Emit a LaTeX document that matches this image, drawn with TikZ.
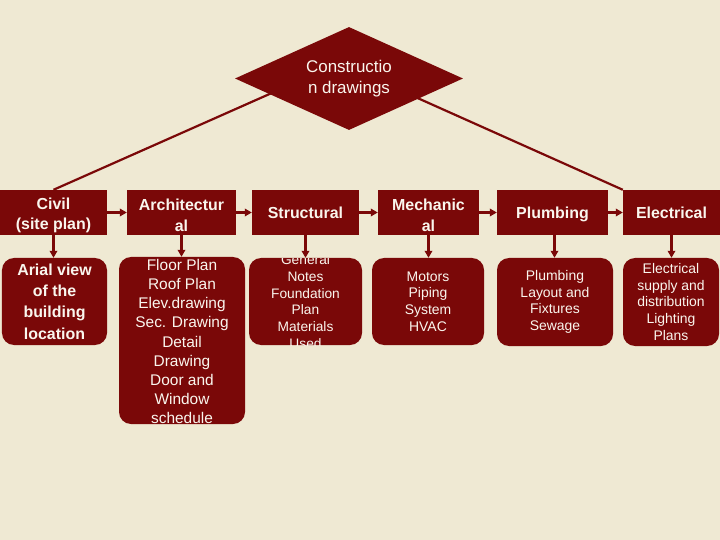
\documentclass[tikz,border=0pt]{standalone}
\usepackage{fontspec}
\setmainfont{Liberation Sans}
\usetikzlibrary{shapes.geometric,arrows.meta}
\definecolor{dred}{RGB}{122,8,8}
\definecolor{bgc}{RGB}{239,233,211}
\definecolor{bgo}{RGB}{220,209,178}
\definecolor{txt}{RGB}{250,246,238}
\pgfdeclareradialshading{vig}{\pgfpoint{0bp}{0bp}}{color(0bp)=(bgc); color(40bp)=(bgc); color(71bp)=(bgo)}
\begin{document}
\begin{tikzpicture}[x=1bp,y=-1bp,
  topbox/.style 2 args={fill=dred,minimum height=45bp,inner sep=0pt,
    path picture={\node[text=txt,align=center,inner sep=0pt,font=\fontsize{16}{20.5}\selectfont\bfseries]
      at ([yshift=#1]path picture bounding box.center) {#2};}},
  lowbox/.style={fill=dred,rounded corners=12bp,minimum height=87bp,inner sep=0pt},
  conn/.style={draw=dred,line width=2.2bp},
  arr/.style={conn,-{Triangle[length=7bp,width=7.5bp]}},
  ltxt/.style={text=txt,align=center,inner sep=0pt},
  smallf/.style={font=\fontsize{14}{16.7}\selectfont}
]
\useasboundingbox (0,0) rectangle (720,540);
\shade[shading=vig] (0,0) rectangle (720,540);

% top row
\node[topbox={-3bp}{Civil\\(site plan)},minimum width=107bp] (civil)  at (53.5,212.5) {};
\node[topbox={-3bp}{Architectur\\al},minimum width=109bp] (arch)   at (181.5,212.5) {};
\node[topbox={-0.5bp}{Structural},minimum width=107bp] (struct) at (305.5,212.5) {};
\node[topbox={-3bp}{Mechanic\\al},minimum width=101bp] (mech)   at (428.5,212.5) {};
\node[topbox={-1.5bp}{Plumbing},minimum width=111bp] (plumb)  at (552.5,212.5) {};
\node[topbox={-0.5bp}{Electrical},minimum width=97bp]  (elec)   at (671.5,212.5) {};

% lower row
\node[lowbox,minimum width=105bp,path picture={\node[ltxt,font=\fontsize{16}{21.5}\selectfont\bfseries] at (path picture bounding box.center) {Arial view\\of the\\building\\location};}] (civilL) at (54.5,301.5) {};
\node[lowbox,minimum width=126bp,minimum height=167bp,path picture={\node[ltxt,font=\fontsize{15.5}{19.2}\selectfont] at ([yshift=-1bp]path picture bounding box.center) {Floor Plan\\Roof Plan\\Elev.drawing\\Sec. Drawing\\Detail\\Drawing\\Door and\\Window\\schedule};}] (archL) at (182,340.5) {};
\node[lowbox,minimum width=113bp,path picture={\node[ltxt,font=\fontsize{13.8}{16.8}\selectfont] at (path picture bounding box.center) {General\\Notes\\Foundation\\Plan\\Materials\\Used};}] (structL) at (305.5,301.5) {};
\node[lowbox,minimum width=112bp,path picture={\node[ltxt,smallf] at (path picture bounding box.center) {Motors\\Piping\\System\\HVAC};}] (mechL) at (428,301.5) {};
\node[lowbox,minimum width=116bp,minimum height=88bp,path picture={\node[ltxt,smallf] at (path picture bounding box.center) {Plumbing\\Layout and\\Fixtures\\Sewage};}] (plumbL) at (555,302) {};
\node[lowbox,minimum width=96bp,minimum height=88bp,path picture={\node[ltxt,smallf] at (path picture bounding box.center) {Electrical\\supply and\\distribution\\Lighting\\Plans};}] (elecL) at (671,302) {};

% horizontal arrows
\draw[arr] (civil.east) -- (arch.west);
\draw[arr] (arch.east) -- (struct.west);
\draw[arr] (struct.east) -- (mech.west);
\draw[arr] (mech.east) -- (plumb.west);
\draw[arr] (plumb.east) -- (elec.west);

% vertical arrows
\draw[arr] (civil.south) -- (civil.south |- civilL.north);
\draw[arr] (arch.south) -- (arch.south |- archL.north);
\draw[arr] (struct.south) -- (struct.south |- structL.north);
\draw[arr] (mech.south) -- (mech.south |- mechL.north);
\draw[arr] ([xshift=2bp]plumb.south) -- ([xshift=2bp]plumb.south |- plumbL.north);
\draw[arr] (elec.south) -- (elec.south |- elecL.north);

% lines from the diamond
\coordinate (dl) at (300,80.5);
\coordinate (dr) at (396,88.4);
\draw[conn] (dl) -- (civil.north);
\draw[conn] (dr) -- (elec.north west);

% diamond
\node[diamond,fill=dred,minimum width=228bp,minimum height=103bp,aspect=2.2,inner sep=0pt,
  text=txt,align=center,font=\fontsize{17}{20.5}\selectfont] (dia) at (349,78.5) {Constructio\\n drawings};
\end{tikzpicture}
\end{document}
